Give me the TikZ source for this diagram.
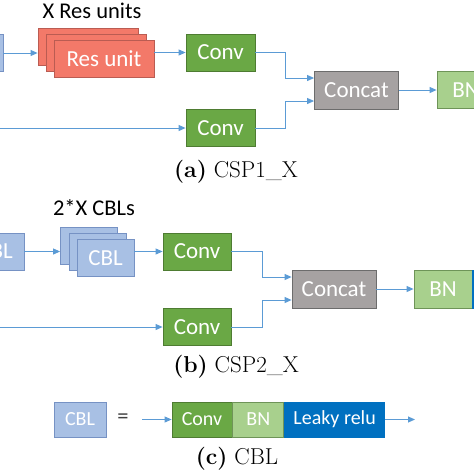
\documentclass[tikz,border=0pt]{standalone}
\usepackage{fontspec}
\newfontfamily\boxfont{Carlito}
\definecolor{cblfill}{RGB}{168,192,228}
\definecolor{cbldraw}{RGB}{118,146,196}
\definecolor{resfill}{RGB}{243,121,105}
\definecolor{resdraw}{RGB}{186,92,82}
\definecolor{convfill}{RGB}{106,168,69}
\definecolor{convdraw}{RGB}{78,124,50}
\definecolor{bnfill}{RGB}{168,208,141}
\definecolor{bndraw}{RGB}{110,148,88}
\definecolor{catfill}{RGB}{166,162,162}
\definecolor{catdraw}{RGB}{108,108,108}
\definecolor{relufill}{RGB}{0,112,192}
\definecolor{flowblue}{RGB}{91,155,213}
\usetikzlibrary{arrows.meta, positioning, calc}

\begin{document}
\begin{tikzpicture}[x=1pt, y=-1pt,
    blk/.style={draw, line width=0.8pt, text=white, inner sep=0pt,
      font=\boxfont\fontsize{23}{25}\selectfont, minimum height=37pt},
    cblbox/.style={blk, fill=cblfill, draw=cbldraw, minimum width=57pt},
    resbox/.style={blk, fill=resfill, draw=resdraw, minimum width=100pt},
    convbox/.style={blk, fill=convfill, draw=convdraw, minimum width=69pt},
    bnbox/.style={blk, fill=bnfill, draw=bndraw, minimum width=58pt},
    catbox/.style={blk, fill=catfill, draw=catdraw, minimum width=84pt, minimum height=38pt},
    relubox/.style={blk, fill=relufill, draw=relufill, minimum width=100pt},
    small/.style={font=\boxfont\fontsize{20}{22}\selectfont, minimum height=35pt},
    flow/.style={draw=flowblue, line width=0.9pt, -{Triangle[length=7pt, width=6pt]}},
    toplabel/.style={font=\boxfont\fontsize{22.5}{24}\selectfont},
    caption/.style={font=\fontsize{23}{26}\selectfont}]
  \useasboundingbox (0,0) rectangle (474,474);
  \clip (0,0) rectangle (474,474);

  \node[cblbox] (cblA) at (-25.5,53) {CBL};
  \node[resbox] (resA1) at (88,46.5) {};
  \node[resbox] (resA2) at (96.5,52.5) {};
  \node[resbox] (resA3) at (104,59) {Res unit};
  \node[toplabel] (labA) at (92,11) {X Res units};
  \node[convbox] (convA1) at (220.5,52.5) {Conv};
  \node[convbox] (convA2) at (220.5,128) {Conv};
  \node[catbox] (catA) at (356.5,90) {Concat};
  \node[bnbox] (bnA) at (466,90) {BN};
  \coordinate (inA) at (-10,128);
  \draw[flow] (cblA.east) -- (cblA.east -| resA1.west);
  \draw[flow] (resA3.east |- convA1) -- (convA1.west);
  \draw[flow] (inA) -- (convA2.west);
  \draw[flow] (convA1.east) -- ++(30,0) |- ([yshift=12pt]catA.west);
  \draw[flow] (convA2.east) -- ++(30,0) |- ([yshift=-11pt]catA.west);
  \draw[flow] (catA) -- (bnA);
  \node[caption] (capA) at (236,172) {\textbf{(a)} CSP1\_X};

  \node[cblbox] (cblB0) at (-4.5,251.5) {CBL};
  \node[cblbox] (cblB1) at (89,246) {};
  \node[cblbox] (cblB2) at (97.5,252) {};
  \node[cblbox] (cblB3) at (105.5,258) {CBL};
  \node[toplabel] (labB) at (94,208) {2*X CBLs};
  \node[convbox, minimum width=68pt] (convB1) at (197,251.5) {Conv};
  \node[convbox, minimum width=68pt] (convB2) at (197,327) {Conv};
  \node[catbox] (catB) at (334,289) {Concat};
  \node[bnbox, minimum height=38pt] (bnB) at (443,289) {BN};
  \node[relubox, minimum height=38pt, anchor=west] (reluB) at (bnB.east) {Leaky relu};
  \coordinate (inB) at (-10,327);
  \draw[flow] (cblB0.east) -- (cblB0.east -| cblB1.west);
  \draw[flow] (cblB3.east |- convB1) -- (convB1.west);
  \draw[flow] (inB) -- (convB2.west);
  \draw[flow] (convB1.east) -- ++(31,0) |- ([yshift=12pt]catB.west);
  \draw[flow] (convB2.east) -- ++(31,0) |- ([yshift=-11pt]catB.west);
  \draw[flow] (catB) -- (bnB);
  \node[caption] (capB) at (236,367) {\textbf{(b)} CSP2\_X};

  \node[cblbox, small, minimum width=52pt] (cblC) at (80,419.5) {CBL};
  \node[toplabel, text=black!75] (eqC) at (123,419) {=};
  \node[convbox, small, minimum width=60pt] (convC) at (202,419.5) {Conv};
  \node[bnbox, small, minimum width=51pt, anchor=west] (bnC) at (convC.east) {BN};
  \node[relubox, small, anchor=west] (reluC) at (bnC.east) {Leaky relu};
  \coordinate (inC) at (142,419.5);
  \coordinate (outC) at (415,419.5);
  \draw[flow] (inC) -- (convC.west);
  \draw[flow] (reluC.east) -- (outC);
  \node[caption] (capC) at (237,459) {\textbf{(c)} CBL};
\end{tikzpicture}
\end{document}
